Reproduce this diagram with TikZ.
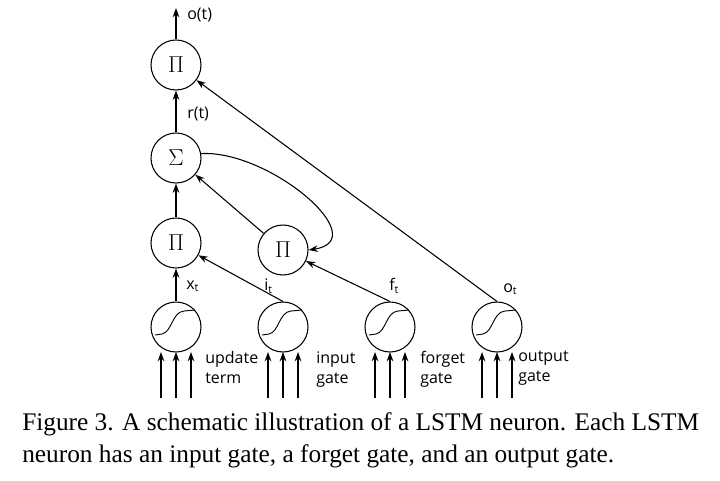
\documentclass[tikz,border=0pt]{standalone}
\usepackage{fontspec}
\setmainfont{Liberation Serif}
\newfontfamily\lab{Open Sans}
\usetikzlibrary{arrows.meta}
\begin{document}
\begin{tikzpicture}[x=0.75pt,y=-0.75pt,
  op/.style={circle,draw,line width=0.8pt,minimum size=37.5pt,inner sep=0pt,font=\fontsize{19}{19}\selectfont},
  ar/.style={-{Stealth[length=7pt,width=5pt]},line width=1.6pt},
  thin/.style={-{Stealth[length=7pt,width=5pt]},line width=0.8pt},
  lb/.style={font=\lab\fontsize{12}{15}\selectfont,align=left,inner sep=0pt}]
\useasboundingbox (0,0) rectangle (720,480);
\node[op] (p1) at (176,65) {$\Pi$};
\node[op] (s) at (176,158) {$\Sigma$};
\node[op] (p2) at (176,243) {$\Pi$};
\node[op] (p3) at (283,250) {$\Pi$};
\foreach \n/\x in {g1/176,g2/283,g3/390,g4/497}{
  \node[op] (\n) at (\x,327) {};
  \draw[line width=0.7pt] (\x-21,335) -- (\x-14,334) .. controls (\x-4,332) and (\x-4,312) .. (\x+8,311) -- (\x+19,310);
  \foreach \d in {-15,0,15}{
    \coordinate (\n b\d) at (\x+\d,398);
    \draw[ar] (\n b\d) -- (\x+\d,352);}
}
\coordinate (out) at (176,8);
\draw[ar] (p1) -- (out);
\draw[ar] (s) -- (p1);
\draw[ar] (p2) -- (s);
\draw[ar] (g1) -- (p2);
\draw[thin] (p3) -- (s);
\draw[thin] (g2.north) -- (p2);
\draw[thin] (g3.north) -- (p3);
\draw[thin] (g4.north) -- (p1);
\draw[thin] (s.10) .. controls (270,150) and (375,240) .. (p3.east);
\node[lb,anchor=west] at (187,15) {o(t)};
\node[lb,anchor=west] at (187,114) {r(t)};
\node[lb,anchor=west] at (186,286) {x\textsubscript{t}};
\node[lb,anchor=west] at (264,286) {i\textsubscript{t}};
\node[lb,anchor=west] at (389,286) {f\textsubscript{t}};
\node[lb,anchor=west] at (503,289) {o\textsubscript{t}};
\node[lb,anchor=north west] at (205,351) {update\\term};
\node[lb,anchor=north west] at (316,351) {input\\gate};
\node[lb,anchor=north west] at (420,351) {forget\\gate};
\node[lb,anchor=north west] at (518,351) {output\\gate};
\node[anchor=north west,inner sep=0pt,align=left,font=\fontsize{19}{24}\selectfont] at (22,412)
 {Figure 3. A schematic illustration of a LSTM neuron. Each LSTM\\neuron has an input gate, a forget gate, and an output gate.};
\end{tikzpicture}
\end{document}
